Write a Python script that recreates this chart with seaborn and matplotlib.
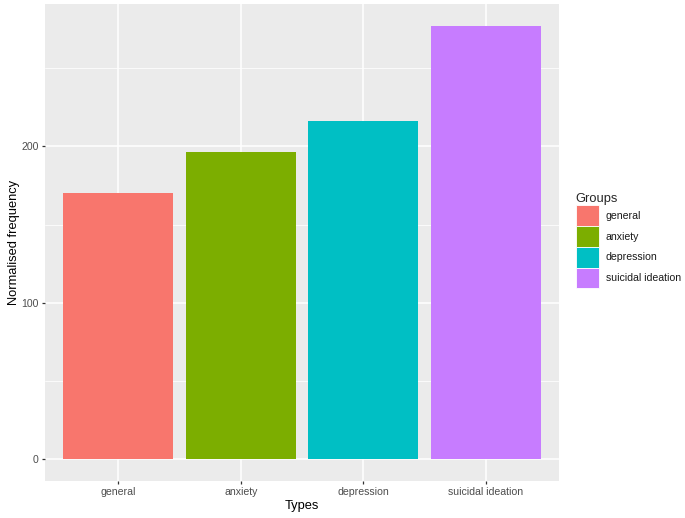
import matplotlib
matplotlib.use("Agg")
import matplotlib.pyplot as plt
from matplotlib.patches import Patch
from matplotlib.ticker import MultipleLocator
import seaborn as sns

# --- DATA ---
types = ["general", "anxiety", "depression", "suicidal ideation"]
freq = [170.2, 196.6, 216.1, 277.2]
colors = ["#F8766D", "#7CAE00", "#00BFC4", "#C77CFF"]

sns.set_theme(style="white")
plt.rcParams["font.family"] = ["Liberation Sans", "DejaVu Sans"]

fig = plt.figure(figsize=(6.85, 5.18), dpi=100)
ax = fig.add_axes([0.0653, 0.072, 0.751, 0.920])
ax.set_facecolor("#EBEBEB")

palette = dict(zip(types, colors))
sns.barplot(x=types, y=freq, hue=types, palette=palette, width=0.9,
            dodge=False, legend=False, saturation=1, ax=ax, zorder=3,
            linewidth=0)

# ggplot-like expansion
ax.set_xlim(-0.6, len(types) - 0.4)
ymax = max(freq)
ax.set_ylim(-0.05 * ymax, ymax * 1.05)

ax.yaxis.set_major_locator(MultipleLocator(100))
ax.yaxis.set_minor_locator(MultipleLocator(50))
ax.grid(True, which="major", color="white", linewidth=1.1, zorder=0)
ax.grid(True, which="minor", axis="y", color="white", linewidth=0.55, zorder=0)
ax.set_axisbelow(True)
for s in ax.spines.values():
    s.set_visible(False)

ax.tick_params(which="major", length=2.4, width=0.9, color="#333333",
               labelsize=7.6, labelcolor="#4D4D4D", pad=2, left=True, bottom=True)
ax.tick_params(which="minor", length=0)

ax.set_xlabel("Types", fontsize=9.3, color="black", labelpad=2)
ax.set_ylabel("Normalised frequency", fontsize=9.3, color="black", labelpad=1)

# legend
handles = [Patch(facecolor=c, edgecolor="white", linewidth=0.6) for c in colors]
leg = fig.legend(handles, types, title="Groups", loc="center left",
                 bbox_to_anchor=(0.8405, 0.535), bbox_transform=fig.transFigure,
                 frameon=False, fontsize=7.6, title_fontsize=9.3,
                 handlelength=2.25, handleheight=2.64, labelspacing=0.0,
                 handletextpad=0.6, borderpad=0, borderaxespad=0,
                 alignment="left")
for t in leg.get_texts():
    t.set_color("#1A1A1A")

fig.savefig("out.png", dpi=100)
